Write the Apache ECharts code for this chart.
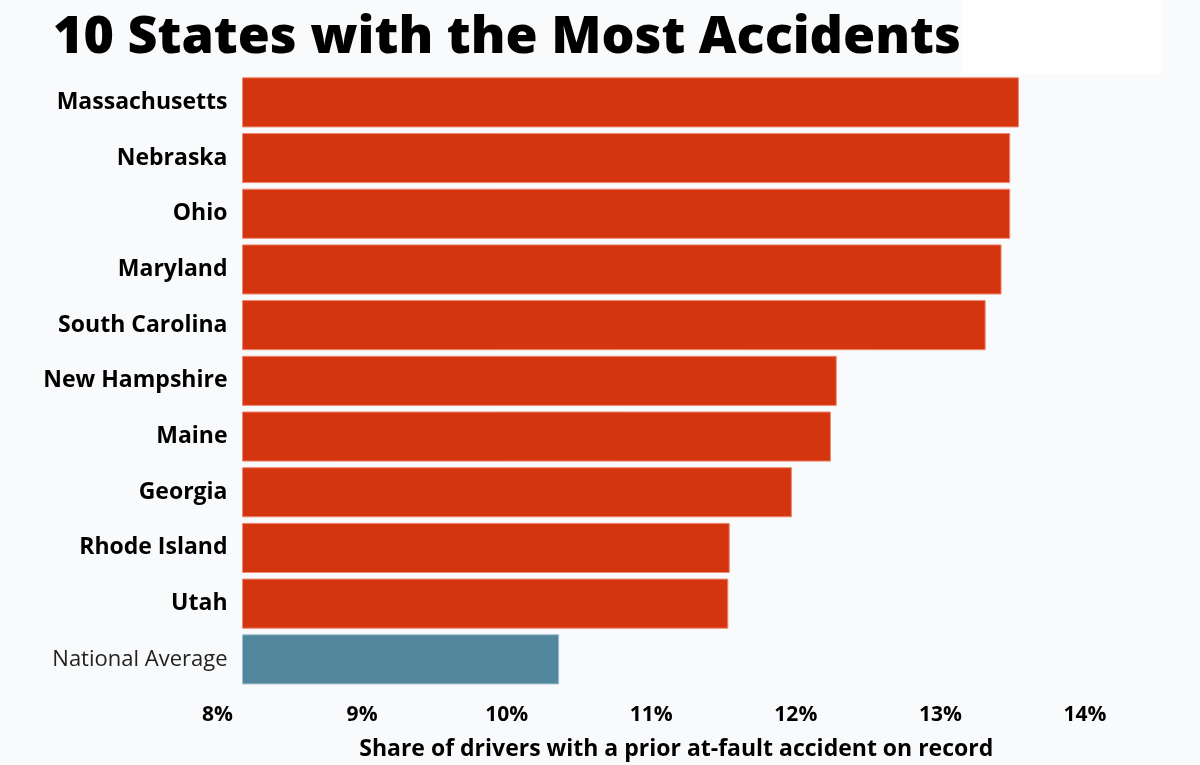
<!DOCTYPE html>
<html>
<head>
<meta charset="utf-8">
<title>10 States with the Most Accidents</title>
<script src="https://cdn.jsdelivr.net/npm/echarts@6/dist/echarts.min.js"></script>
<style>
  html, body { margin: 0; padding: 0; background: #f9fafc; }
  #chart { width: 1200px; height: 765px; }
</style>
</head>
<body>
<div id="chart"></div>
<script>
// data
const states = ['Massachusetts', 'Nebraska', 'Ohio', 'Maryland', 'South Carolina',
  'New Hampshire', 'Maine', 'Georgia', 'Rhode Island', 'Utah', 'National Average'];
const shares = [13.37, 13.31, 13.31, 13.25, 13.14, 12.11, 12.07, 11.80, 11.37, 11.36, 10.19];
const averageLabel = 'National Average';
const xTicks = { min: 8, max: 14, interval: 1 };

const FONT = '"Open Sans", "Liberation Sans", sans-serif';

const chart = echarts.init(document.getElementById('chart'));

let barData = [];
states.forEach((s, i) => {
  let isAvg = s === averageLabel;
  barData.push({
    value: shares[i],
    itemStyle: {
      color: isAvg ? '#52869c' : '#d5350e',
      borderColor: isAvg ? '#9dbfcf' : '#ee8a72',
      borderWidth: 1
    }
  });
});

let option = {
  backgroundColor: '#f9fafc',
  animation: false,
  title: {
    text: '10 States with the Most Accidents',
    left: 48,
    top: 7,
    textStyle: {
      fontFamily: FONT,
      fontWeight: 800,
      fontSize: 52,
      color: '#000'
    }
  },
  graphic: [{
    type: 'rect',
    shape: { x: 962, y: 0, width: 200, height: 74 },
    style: { fill: '#ffffff' },
    z: -1
  }],
  grid: {
    left: 242.5,
    right: 90,
    top: 74.5,
    bottom: 77.8,
    containLabel: false,
    outerBoundsMode: 'none'
  },
  xAxis: {
    type: 'value',
    min: xTicks.min,
    max: xTicks.max,
    interval: xTicks.interval,
    splitLine: { show: false },
    axisLine: { show: false },
    axisTick: { show: false },
    axisLabel: {
      formatter: '{value}%',
      margin: 17,
      padding: [0, 50, 0, 0],
      fontFamily: FONT,
      fontWeight: 'bold',
      fontSize: 21,
      color: '#000'
    },
    name: 'Share of drivers with a prior at-fault accident on record',
    nameLocation: 'middle',
    nameGap: 51,
    nameTextStyle: {
      fontFamily: FONT,
      fontWeight: 'bold',
      fontSize: 23,
      color: '#000'
    }
  },
  yAxis: {
    type: 'category',
    data: states,
    inverse: true,
    axisLine: { show: false },
    axisTick: { show: false },
    axisLabel: {
      margin: 15,
      formatter: (v) => v === averageLabel ? '{avg|' + v + '}' : '{st|' + v + '}',
      rich: {
        st: { fontFamily: FONT, fontWeight: 'bold', fontSize: 23, color: '#000' },
        avg: { fontFamily: FONT, fontWeight: 'normal', fontSize: 22, color: '#222' }
      }
    }
  },
  series: [{
    type: 'bar',
    data: barData,
    barCategoryGap: '10%'
  }]
};

chart.setOption(option);
</script>
</body>
</html>
